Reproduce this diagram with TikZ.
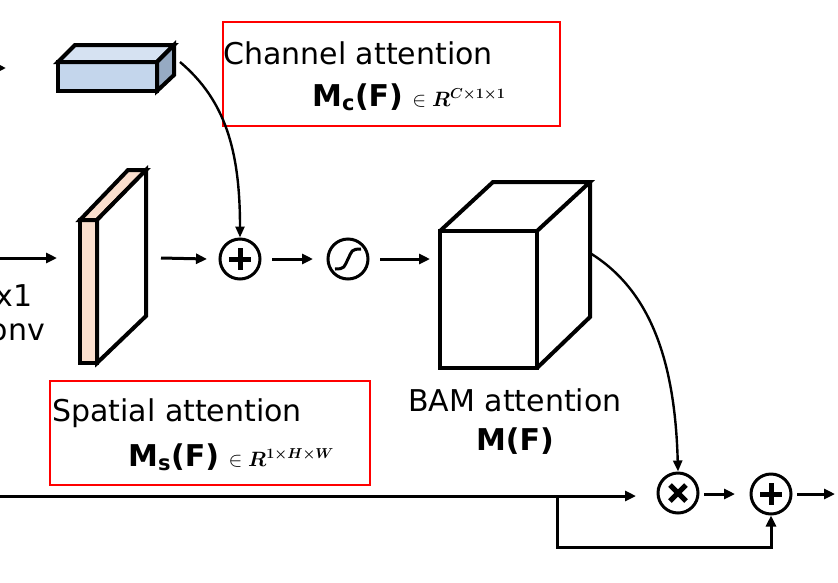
\documentclass[tikz,border=0pt]{standalone}
\usepackage{amsmath,bm}
\usepackage{fontspec}
\setmainfont{DejaVu Sans}
\usetikzlibrary{arrows.meta}
\definecolor{bfront}{RGB}{196,214,236}
\definecolor{btop}{RGB}{214,226,242}
\definecolor{bside}{RGB}{150,170,195}
\definecolor{peach}{RGB}{250,222,205}
\begin{document}
\begin{tikzpicture}[x=1pt,y=-1pt,
  ln/.style={line width=4pt,line join=miter},
  arr/.style={line width=3pt,-{Triangle[length=11pt,width=10pt]}},
  carr/.style={line width=2.4pt,-{Triangle[length=11pt,width=9pt]}},
  op/.style={circle,draw,line width=3pt,minimum size=40pt,inner sep=0pt},
  rbox/.style={draw=red,line width=2.5pt},
  lbl/.style={font=\fontsize{30}{34}\selectfont,inner sep=0pt}]
\useasboundingbox (0,0) rectangle (838,582);
% red boxes
\draw[rbox] (223,22) rectangle (560,126);
\draw[rbox] (50,381) rectangle (370,485);
\node[lbl,anchor=west] (ct) at (223,53) {Channel attention};
\node[lbl,anchor=west] (cm) at (312,97) {\textbf{M\textsubscript{c}(F)} {\fontsize{22}{24}\selectfont $\in\bm{R}^{\bm{C\times1\times1}}$}};
\node[lbl,anchor=west] (st) at (52,413) {Spatial attention};
\node[lbl,anchor=west] (sm) at (128,457) {\textbf{M\textsubscript{s}(F)} {\fontsize{22}{24}\selectfont $\in\bm{R}^{\bm{1\times H\times W}}$}};
% top-left stub
\coordinate (tl) at (6,68);
\draw[arr] (-20,68) -- (tl);
% blue box
\draw[ln,fill=bfront] (58,62) rectangle (157,91);
\draw[ln,fill=btop] (58,62) -- (75,45) -- (174,45) -- (157,62) -- cycle;
\draw[ln,fill=bside] (157,62) -- (174,45) -- (174,75) -- (157,91) -- cycle;
\coordinate (bb) at (180,62);
% slab
\draw[ln,fill=peach] (80,220) rectangle (97,363);
\draw[ln,fill=peach] (80,220) -- (128,170) -- (146,170) -- (97,220) -- cycle;
\draw[ln,fill=white] (97,220) -- (146,170) -- (146,316) -- (97,363) -- cycle;
\coordinate (sl) at (57,258);
\coordinate (sr) at (161,258);
\draw[arr] (0,258) -- (sl);
\node[lbl,anchor=east] (x1) at (33,296) {x1};
\node[lbl,anchor=east] (cv) at (45,332) {onv};
% ops
\node[op] (p1) at (240,259) {};
\draw[line width=5pt] (p1.center) ++(-11,0) -- ++(22,0) (p1.center) ++(0,-11) -- ++(0,22);
\node[op] (sg) at (348,259) {};
\draw[line width=3pt] (sg.center) ++(-13,10) .. controls ++(10,0) and ++(-4,8) .. ++(13,-10)
  .. controls ++(4,-8) and ++(-10,0) .. ++(13,-10);
\draw[arr] (sr) -- (207,259);
\draw[arr] (272,259) -- (313,259);
\draw[arr] (380,259) -- (430,259);
\draw[carr] (bb) .. controls (225,100) and (240,150) .. (p1.north);
% cube
\draw[ln,fill=white] (440,231) rectangle (537,368);
\draw[ln] (440,231) -- (493,182) -- (590,182) -- (537,231);
\draw[ln] (590,182) -- (590,317) -- (537,368);
\coordinate (cr) at (590,253);
\node[lbl,anchor=center] (bam) at (515,400) {BAM attention};
\node[lbl,anchor=center] (mf) at (515,441) {\textbf{M(F)}};
% bottom
\node[op] (ot) at (678,493) {};
\draw[line width=5pt] (ot.center) ++(-8,-8) -- ++(16,16) (ot.center) ++(-8,8) -- ++(16,-16);
\node[op] (p2) at (771,494) {};
\draw[line width=5pt] (p2.center) ++(-11,0) -- ++(22,0) (p2.center) ++(0,-11) -- ++(0,22);
\draw[carr] (cr) .. controls (650,290) and (675,360) .. (ot.north);
\coordinate (br) at (557,496);
\draw[arr] (0,496) -- (636,496);
\draw[arr] (br) -- (557,547) -- (771,547) -- (p2.south);
\draw[arr] (704,494) -- (735,494);
\draw[arr] (797,494) -- (835,494);
\end{tikzpicture}
\end{document}
